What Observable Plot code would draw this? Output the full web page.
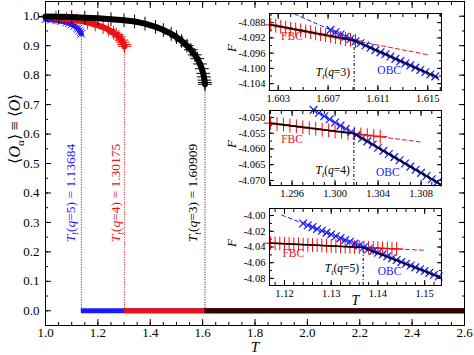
<!DOCTYPE html>
<html><head><meta charset="utf-8">
<script src="https://cdn.jsdelivr.net/npm/d3@7"></script>
<script src="https://cdn.jsdelivr.net/npm/@observablehq/plot@0.6"></script>
<style>
body{margin:0;background:#fff}
#wrap{position:relative;width:474px;height:355px;overflow:hidden}
#wrap svg{position:absolute;overflow:visible}
</style></head><body><div id="wrap"></div>
<script>
// ---------- main panel data ----------
const blueT = [1.00,1.02,1.04,1.06,1.08,1.09,1.10,1.11,1.12,1.125,1.13,1.134,1.13684];
const blueO = [0.990,0.988,0.986,0.983,0.979,0.976,0.972,0.967,0.961,0.957,0.951,0.946,0.940];
const redT = [1.00,1.04,1.08,1.12,1.16,1.19,1.22,1.24,1.26,1.27,1.28,1.29,1.295,1.30,1.30175];
const redO = [0.997,0.995,0.991,0.986,0.979,0.972,0.963,0.955,0.944,0.938,0.930,0.919,0.912,0.904,0.898];
const blackT = [1.00,1.05,1.10,1.15,1.20,1.25,1.30,1.34,1.38,1.42,1.45,1.48,1.50,1.52,1.54,1.555,1.57,1.58,1.59,1.597,1.602,1.605,1.607,1.6085,1.60909];
const blackO = [0.999,0.998,0.997,0.995,0.993,0.990,0.986,0.982,0.975,0.964,0.953,0.940,0.929,0.916,0.900,0.886,0.869,0.856,0.838,0.822,0.806,0.794,0.783,0.775,0.769];
const qValues = [5, 4, 3];
const Tt = [1.13684, 1.30175, 1.60909];
const ttText = ["1.13684", "1.30175", "1.60909"];
const labelT = [1.095, 1.267, 1.562];
const labelO = 0.233;
const zeroEndT = 2.6;
const xTicksMain = [1.0, 1.2, 1.4, 1.6, 1.8, 2.0, 2.2, 2.4, 2.6];
const yTicksMain = [0.0, 0.1, 0.2, 0.3, 0.4, 0.5, 0.6, 0.7, 0.8, 0.9, 1.0];

// ---------- inset data (q = 3) ----------
const q3_fbcT = [1.6024,1.6028,1.6032,1.6036,1.6040,1.6044,1.6048,1.6052,1.6056,1.6060,1.6064,1.6068,1.6072,1.6076,1.6080,1.6084,1.6088,1.6092];
const q3_fbcF = [-4.0886,-4.0888,-4.0891,-4.0893,-4.0896,-4.0898,-4.0900,-4.0903,-4.0905,-4.0908,-4.0910,-4.0913,-4.0915,-4.0918,-4.0920,-4.0923,-4.0925,-4.0928];
const q3_obcT = [1.6072,1.6076,1.6080,1.6084,1.6088,1.6092,1.6096,1.6100,1.6104,1.6108,1.6112,1.6116,1.6120,1.6124,1.6128,1.6132,1.6136,1.6140,1.6144,1.6148,1.6152,1.6156];
const q3_obcF = [-4.0899,-4.0905,-4.0911,-4.0917,-4.0923,-4.0929,-4.0934,-4.0940,-4.0946,-4.0952,-4.0958,-4.0963,-4.0969,-4.0975,-4.0981,-4.0987,-4.0992,-4.0998,-4.1004,-4.1010,-4.1016,-4.1021];
const q3_fitFbcT = [1.6023, 1.6091], q3_fitFbcF = [-4.0885, -4.0927];
const q3_fitObcT = [1.6091, 1.6158], q3_fitObcF = [-4.0927, -4.1024];
const q3_dashFbcT = [1.6091, 1.6150], q3_dashFbcF = [-4.0927, -4.0964];
const q3_dashObcT = [1.6043, 1.6158], q3_dashObcF = [-4.0857, -4.1024];
const q3_cross = -4.0927;

// ---------- inset data (q = 4) ----------
const q4_fbcT = [1.2940,1.2946,1.2952,1.2958,1.2964,1.2970,1.2976,1.2982,1.2988,1.2994,1.3000,1.3006,1.3012,1.3018,1.3024,1.3030,1.3036,1.3042];
const q4_fbcF = [-4.0518,-4.0521,-4.0523,-4.0526,-4.0528,-4.0531,-4.0534,-4.0536,-4.0539,-4.0541,-4.0544,-4.0546,-4.0549,-4.0551,-4.0554,-4.0556,-4.0559,-4.0561];
const q4_obcT = [1.2980,1.2985,1.2990,1.2995,1.3000,1.3005,1.3010,1.3015,1.3020,1.3025,1.3030,1.3035,1.3040,1.3045,1.3050,1.3055,1.3060,1.3065,1.3070,1.3075,1.3080,1.3085,1.3090,1.3095];
const q4_obcF = [-4.0476,-4.0486,-4.0496,-4.0506,-4.0516,-4.0526,-4.0536,-4.0546,-4.0556,-4.0566,-4.0576,-4.0586,-4.0596,-4.0606,-4.0616,-4.0626,-4.0636,-4.0646,-4.0656,-4.0666,-4.0676,-4.0686,-4.0696,-4.0706];
const q4_fitFbcT = [1.2939, 1.30175], q4_fitFbcF = [-4.0518, -4.0551];
const q4_fitObcT = [1.30175, 1.3098], q4_fitObcF = [-4.0551, -4.0712];
const q4_dashFbcT = [1.30175, 1.3080], q4_dashFbcF = [-4.0551, -4.0578];
const q4_dashObcT = [1.2979, 1.3098], q4_dashObcF = [-4.0474, -4.0712];
const q4_cross = -4.0551;

// ---------- inset data (q = 5) ----------
const q5_fbcT = [1.117,1.118,1.119,1.120,1.121,1.122,1.123,1.124,1.125,1.126,1.127,1.128,1.129,1.130,1.131,1.132,1.133,1.134,1.135,1.136,1.137,1.138,1.139,1.140,1.141,1.142,1.143,1.144];
const q5_fbcF = [-4.0351,-4.0353,-4.0356,-4.0359,-4.0362,-4.0364,-4.0367,-4.0370,-4.0373,-4.0375,-4.0378,-4.0381,-4.0384,-4.0387,-4.0389,-4.0392,-4.0395,-4.0398,-4.0400,-4.0403,-4.0406,-4.0409,-4.0411,-4.0414,-4.0417,-4.0420,-4.0423,-4.0425];
const q5_obcT = [1.124,1.125,1.126,1.127,1.128,1.129,1.130,1.131,1.132,1.133,1.134,1.135,1.136,1.137,1.138,1.139,1.140,1.141,1.142,1.143,1.144,1.145,1.146,1.147,1.148,1.149,1.150,1.151,1.152,1.153];
const q5_obcF = [-4.0100,-4.0124,-4.0147,-4.0170,-4.0193,-4.0217,-4.0240,-4.0263,-4.0287,-4.0310,-4.0333,-4.0357,-4.0380,-4.0403,-4.0426,-4.0450,-4.0473,-4.0496,-4.0520,-4.0543,-4.0566,-4.0590,-4.0613,-4.0636,-4.0659,-4.0683,-4.0706,-4.0729,-4.0753,-4.0776];
const q5_fitFbcT = [1.1168, 1.1369], q5_fitFbcF = [-4.0350, -4.0406];
const q5_fitObcT = [1.1369, 1.1536], q5_fitObcF = [-4.0406, -4.0790];
const q5_dashFbcT = [1.1369, 1.1500], q5_dashFbcF = [-4.0406, -4.0442];
const q5_dashObcT = [1.1194, 1.1536], q5_dashObcF = [-3.9993, -4.0790];
const q5_cross = -4.0406;

const BLUE = "#1a1aff", RED = "#ee1111", BLACK = "#000000", ZBLACK = "#2a0505";
const FONT = "'Liberation Serif', 'Times New Roman', serif";

const tbl = (T, V) => T.map((t, i) => ({T: t, V: V[i]}));

function frameTicks(xT, yT, len) {
  const o = {tickFormat: () => "", label: null, stroke: "black"};
  return [
    Plot.axisX({...o, ticks: xT, anchor: "bottom", tickSize: len, dy: -len}),
    Plot.axisX({...o, ticks: xT, anchor: "top", tickSize: len, dy: len}),
    Plot.axisY({...o, ticks: yT, anchor: "left", tickSize: len, dx: len}),
    Plot.axisY({...o, ticks: yT, anchor: "right", tickSize: len, dx: -len})
  ];
}
const within = (arr, d) => arr.filter(v => v >= Math.min(...d) - 1e-9 && v <= Math.max(...d) + 1e-9);

// ---------- main plot ----------
const xDom = [1.0, 2.6], yDom = [-0.05, 1.05];
const xMinor = within(d3.range(1.0, 2.6001, 0.05), xDom);
const yMinor = within(d3.range(-0.05, 1.0501, 0.05), yDom);
const series = [
  {d: tbl(blueT, blueO), c: BLUE, sym: "times", r: 3.5, w: 5},
  {d: tbl(redT, redO), c: RED, sym: "plus", r: 4.5, w: 6},
  {d: tbl(blackT, blackO), c: BLACK, sym: "plus", r: 4.5, w: 6}
];
const ends = [blueO.at(-1), redO.at(-1), blackO.at(-1)];
const zeroColors = [BLUE, RED, ZBLACK];
const idx = [0, 1, 2];

const main = Plot.plot({
  width: 474, height: 355,
  marginLeft: 45, marginRight: 10, marginTop: 1, marginBottom: 30,
  style: {fontFamily: FONT, fontSize: "13px", background: "white", color: "black", overflow: "visible"},
  x: {domain: xDom}, y: {domain: yDom},
  marks: [
    ...frameTicks(xMinor, yMinor, 3),
    ...frameTicks(xTicksMain, yTicksMain, 6),
    Plot.axisX({ticks: xTicksMain, anchor: "bottom", tickSize: 0, tickPadding: 2, tickFormat: d => d.toFixed(1), label: null, fontSize: 13}),
    Plot.axisY({ticks: yTicksMain, anchor: "left", tickSize: 0, tickPadding: 6, tickFormat: d => d.toFixed(1), label: null, fontSize: 13}),
    Plot.ruleX(idx, {x: i => Tt[i], y1: 0, y2: i => ends[i], stroke: i => zeroColors[i], strokeWidth: 1, strokeDasharray: "1,1.5"}),
    Plot.ruleY(idx, {y: 0, x1: i => Tt[i], x2: zeroEndT, stroke: i => zeroColors[i], strokeWidth: 5}),
    ...series.flatMap(s => [
      Plot.line(s.d, {x: "T", y: "V", stroke: s.c, strokeWidth: s.w}),
      Plot.dot(s.d, {x: "T", y: "V", symbol: s.sym, r: s.r, stroke: s.c, strokeWidth: 1})
    ]),
    Plot.text(idx, {x: i => labelT[i], y: labelO, text: i => `Tt(q=${qValues[i]}) = ${ttText[i]}`, rotate: -90, textAnchor: "start", fill: i => zeroColors[i] === ZBLACK ? BLACK : zeroColors[i], fontSize: 13.5}),
    Plot.text(["⟨Oα⟩ ≡ ⟨O⟩"], {frameAnchor: "left", dx: -31, rotate: -90, fontSize: 16}),
    Plot.text(["T"], {frameAnchor: "bottom", dy: 26.5, fontStyle: "italic", fontSize: 15}),
    Plot.frame({stroke: "black"})
  ]
});
main.style.left = "0px"; main.style.top = "0px";
document.getElementById("wrap").appendChild(main);

// ---------- insets ----------
const insets = [
  {top: 13, fh: 77, xd: [1.6023, 1.6161], yd: [-4.1058, -4.0856],
   xMaj: [1.603, 1.607, 1.611, 1.615], xStep: 0.001, yMaj: [-4.088, -4.092, -4.096, -4.100, -4.104], yStep: 0.002,
   fx: d => d.toFixed(3), fy: d => d.toFixed(3), q: 3, tt: 1.60909, cross: q3_cross,
   fbc: tbl(q3_fbcT, q3_fbcF), obc: tbl(q3_obcT, q3_obcF), fitF: tbl(q3_fitFbcT, q3_fitFbcF), fitO: tbl(q3_fitObcT, q3_fitObcF),
   dashF: tbl(q3_dashFbcT, q3_dashFbcF), dashO: tbl(q3_dashObcT, q3_dashObcF),
   fbcLab: [1.6041, -4.0916], obcLab: [1.6119, -4.1006], ttLab: -4.1011, xlab: false},
  {top: 110, fh: 75, xd: [1.2939, 1.3099], yd: [-4.0716, -4.0478],
   xMaj: [1.296, 1.300, 1.304, 1.308], xStep: 0.001, yMaj: [-4.050, -4.055, -4.060, -4.065, -4.070], yStep: 0.0025,
   fx: d => d.toFixed(3), fy: d => d.toFixed(3), q: 4, tt: 1.30175, cross: q4_cross,
   fbc: tbl(q4_fbcT, q4_fbcF), obc: tbl(q4_obcT, q4_obcF), fitF: tbl(q4_fitFbcT, q4_fitFbcF), fitO: tbl(q4_fitObcT, q4_fitObcF),
   dashF: tbl(q4_dashFbcT, q4_dashFbcF), dashO: tbl(q4_dashObcT, q4_dashObcF),
   fbcLab: [1.2960, -4.0568], obcLab: [1.3049, -4.0675], ttLab: -4.0668, xlab: false},
  {top: 208, fh: 77, xd: [1.1168, 1.1536], yd: [-4.089, -3.991],
   xMaj: [1.12, 1.13, 1.14, 1.15], xStep: 0.002, yMaj: [-4.00, -4.02, -4.04, -4.06, -4.08], yStep: 0.01,
   fx: d => d.toFixed(2), fy: d => d.toFixed(2), q: 5, tt: 1.13684, cross: q5_cross,
   fbc: tbl(q5_fbcT, q5_fbcF), obc: tbl(q5_obcT, q5_obcF), fitF: tbl(q5_fitFbcT, q5_fitFbcF), fitO: tbl(q5_fitObcT, q5_fitObcF),
   dashF: tbl(q5_dashFbcT, q5_dashFbcF), dashO: tbl(q5_dashObcT, q5_dashObcF),
   fbcLab: [1.1219, -4.0478], obcLab: [1.1425, -4.0705], ttLab: -4.0667, xlab: true}
];

for (const c of insets) {
  const mb = c.xlab ? 26 : 20;
  const xMin = within(d3.range(c.xMaj[0] - 10 * c.xStep, c.xMaj.at(-1) + 10 * c.xStep, c.xStep), c.xd);
  const yMin = within(d3.range(c.yMaj.at(-1) - 10 * c.yStep, c.yMaj[0] + 10 * c.yStep, c.yStep), c.yd);
  const p = Plot.plot({
    width: 227, height: 8 + c.fh + mb,
    marginLeft: 49, marginRight: 6, marginTop: 8, marginBottom: mb,
    style: {fontFamily: FONT, fontSize: "10.5px", background: "transparent", color: "black", overflow: "visible"},
    x: {domain: c.xd}, y: {domain: c.yd},
    marks: [
      Plot.frame({fill: "white"}),
      ...frameTicks(xMin, yMin, 3),
      ...frameTicks(c.xMaj, c.yMaj, 5),
      Plot.axisX({ticks: c.xMaj, anchor: "bottom", tickSize: 0, tickPadding: 4, tickFormat: c.fx, label: null, fontSize: 10.5}),
      Plot.axisY({ticks: c.yMaj, anchor: "left", tickSize: 0, tickPadding: 4, tickFormat: c.fy, label: null, fontSize: 10.5}),
      Plot.line(c.dashF, {x: "T", y: "V", stroke: RED, strokeWidth: 1, strokeDasharray: "4,3"}),
      Plot.line(c.dashO, {x: "T", y: "V", stroke: BLUE, strokeWidth: 1, strokeDasharray: "4,3"}),
      Plot.ruleX([c.tt], {x: d => d, y1: c.yd[0], y2: c.cross, stroke: BLACK, strokeWidth: 1, strokeDasharray: "3,2,1,2"}),
      Plot.dot(c.fbc, {x: "T", y: "V", symbol: "plus", r: 4.5, stroke: RED, strokeWidth: 1}),
      Plot.dot(c.obc, {x: "T", y: "V", symbol: "times", r: 3.6, stroke: BLUE, strokeWidth: 1.2}),
      Plot.line(c.fitF, {x: "T", y: "V", stroke: BLACK, strokeWidth: 1.6}),
      Plot.line(c.fitO, {x: "T", y: "V", stroke: BLACK, strokeWidth: 1.6}),
      Plot.text(["FBC"], {x: c.fbcLab[0], y: c.fbcLab[1], fill: RED, fontSize: 11.5}),
      Plot.text(["OBC"], {x: c.obcLab[0], y: c.obcLab[1], fill: BLUE, fontSize: 11.5}),
      Plot.text([`Tt(q=${c.q})`], {x: c.tt, y: c.ttLab, dx: -4, textAnchor: "end", fill: BLACK, fontSize: 11.5}),
      Plot.text(["F"], {frameAnchor: "left", dx: -38, rotate: -90, fontStyle: "italic", fontSize: 13}),
      ...(c.xlab ? [Plot.text(["T"], {frameAnchor: "bottom", dy: 19, fontStyle: "italic", fontSize: 14})] : []),
      Plot.frame({stroke: "black"})
    ]
  });
  p.style.left = "220px"; p.style.top = (c.top - 8) + "px";
  document.getElementById("wrap").appendChild(p);
}

// ---------- rich text (italics, subscripts) ----------
const NS = "http://www.w3.org/2000/svg";
function setRich(t, parts) {
  t.textContent = "";
  for (const p of parts) {
    const s = document.createElementNS(NS, "tspan");
    s.textContent = p.s;
    if (p.i) s.setAttribute("font-style", "italic");
    if (p.dy) s.setAttribute("dy", p.dy);
    if (p.fs) s.setAttribute("font-size", p.fs);
    t.appendChild(s);
  }
}
document.querySelectorAll("#wrap text").forEach(t => {
  const s = t.textContent;
  let m;
  if ((m = s.match(/^Tt\(q=(\d)\)(.*)$/))) {
    const fs = parseFloat(t.getAttribute("font-size") || getComputedStyle(t).fontSize) || 12;
    const sh = (fs * 0.28).toFixed(1);
    setRich(t, [
      {s: "T", i: true},
      {s: "t", i: true, dy: sh, fs: (fs * 0.7).toFixed(1)},
      {s: "(", dy: -sh},
      {s: "q", i: true},
      {s: "=" + m[1] + ")" + m[2]}
    ]);
  } else if (s === "⟨Oα⟩ ≡ ⟨O⟩") {
    setRich(t, [
      {s: "⟨"}, {s: "O", i: true},
      {s: "α", dy: 4, fs: 11},
      {s: "⟩ ≡ ⟨", dy: -4}, {s: "O", i: true}, {s: "⟩"}
    ]);
  }
});
</script></body></html>
